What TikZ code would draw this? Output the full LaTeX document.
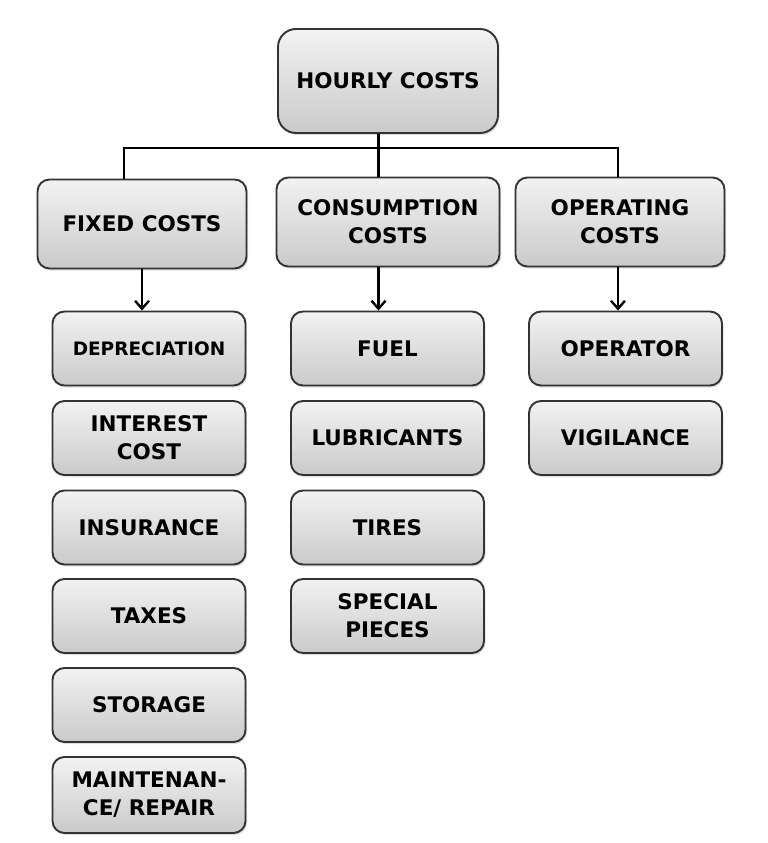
\documentclass[tikz,border=0pt]{standalone}
\usepackage{fontspec}
\newfontfamily\boxfont{DejaVu Sans}[BoldFont={* Bold}]
\usetikzlibrary{arrows.meta,shadows,calc}
\definecolor{boxtop}{HTML}{F2F2F2}
\definecolor{boxbot}{HTML}{CACACA}
\definecolor{boxline}{HTML}{333333}
\tikzset{
  cbox/.style={draw=boxline, line width=1.9pt, rounded corners=12pt,
    top color=boxtop, bottom color=boxbot, inner sep=0pt, align=center,
    font=\boxfont\bfseries\fontsize{21.5}{28}\selectfont, text=black,
    drop shadow={shadow xshift=1.5pt, shadow yshift=-2pt, opacity=0.25}},
  topbox/.style={cbox, minimum width=220pt, minimum height=104pt, rounded corners=18pt},
  midbox/.style={cbox, minimum height=89pt},
  leaf/.style={cbox, minimum width=193pt, minimum height=74pt},
  conn/.style={line width=2.4pt, black},
  arr/.style={conn, -{Straight Barb[length=8pt,width=14pt]}}
}
\begin{document}
\begin{tikzpicture}[x=1pt,y=-1pt]
\useasboundingbox (0,0) rectangle (768,843);
\fill[white] (0,0) rectangle (768,843);
% top
\node[topbox] (top) at (388,81) {HOURLY COSTS};
% level 2
\node[midbox, minimum width=209pt] (fixed) at (142,224) {FIXED COSTS};
\node[midbox, minimum width=223pt] (cons) at (388,222) {CONSUMPTION\\COSTS};
\node[midbox, minimum width=209pt] (oper) at (620,222) {OPERATING\\COSTS};
% column 1
\node[leaf, font=\boxfont\bfseries\fontsize{18.5}{20}\selectfont] (dep) at (149,348.5) {DEPRECIATION};
\node[leaf] (int) at (149,438) {INTEREST\\COST};
\node[leaf] (ins) at (149,527.5) {INSURANCE};
\node[leaf] (tax) at (149,616) {TAXES};
\node[leaf] (sto) at (149,705) {STORAGE};
\node[leaf, minimum height=76pt] (mai) at (149,795) {MAINTENAN-\\CE/ REPAIR};
% column 2
\node[leaf] (fuel) at (387.5,348.5) {FUEL};
\node[leaf] (lub) at (387.5,438) {LUBRICANTS};
\node[leaf] (tir) at (387.5,527.5) {TIRES};
\node[leaf] (spe) at (387.5,616) {SPECIAL\\PIECES};
% column 3
\node[leaf] (opr) at (625.5,348.5) {OPERATOR};
\node[leaf] (vig) at (625.5,438) {VIGILANCE};
% connectors
\coordinate (bl) at (124,148);
\coordinate (bm) at (378.5,148);
\coordinate (br) at (618,148);
\draw[conn] (top.south -| bm) -- (bm);
\draw[conn, line cap=rect] (bl) -- (br);
\draw[conn] (bl) -- (bl |- fixed.north);
\draw[conn] (bm) -- (bm |- cons.north);
\draw[conn] (br) -- (br |- oper.north);
\draw[arr] (fixed.south) -- (fixed.south |- dep.north);
\draw[arr] (cons.south -| bm) -- (bm |- fuel.north);
\draw[arr] (oper.south -| br) -- (br |- opr.north);
\end{tikzpicture}
\end{document}
